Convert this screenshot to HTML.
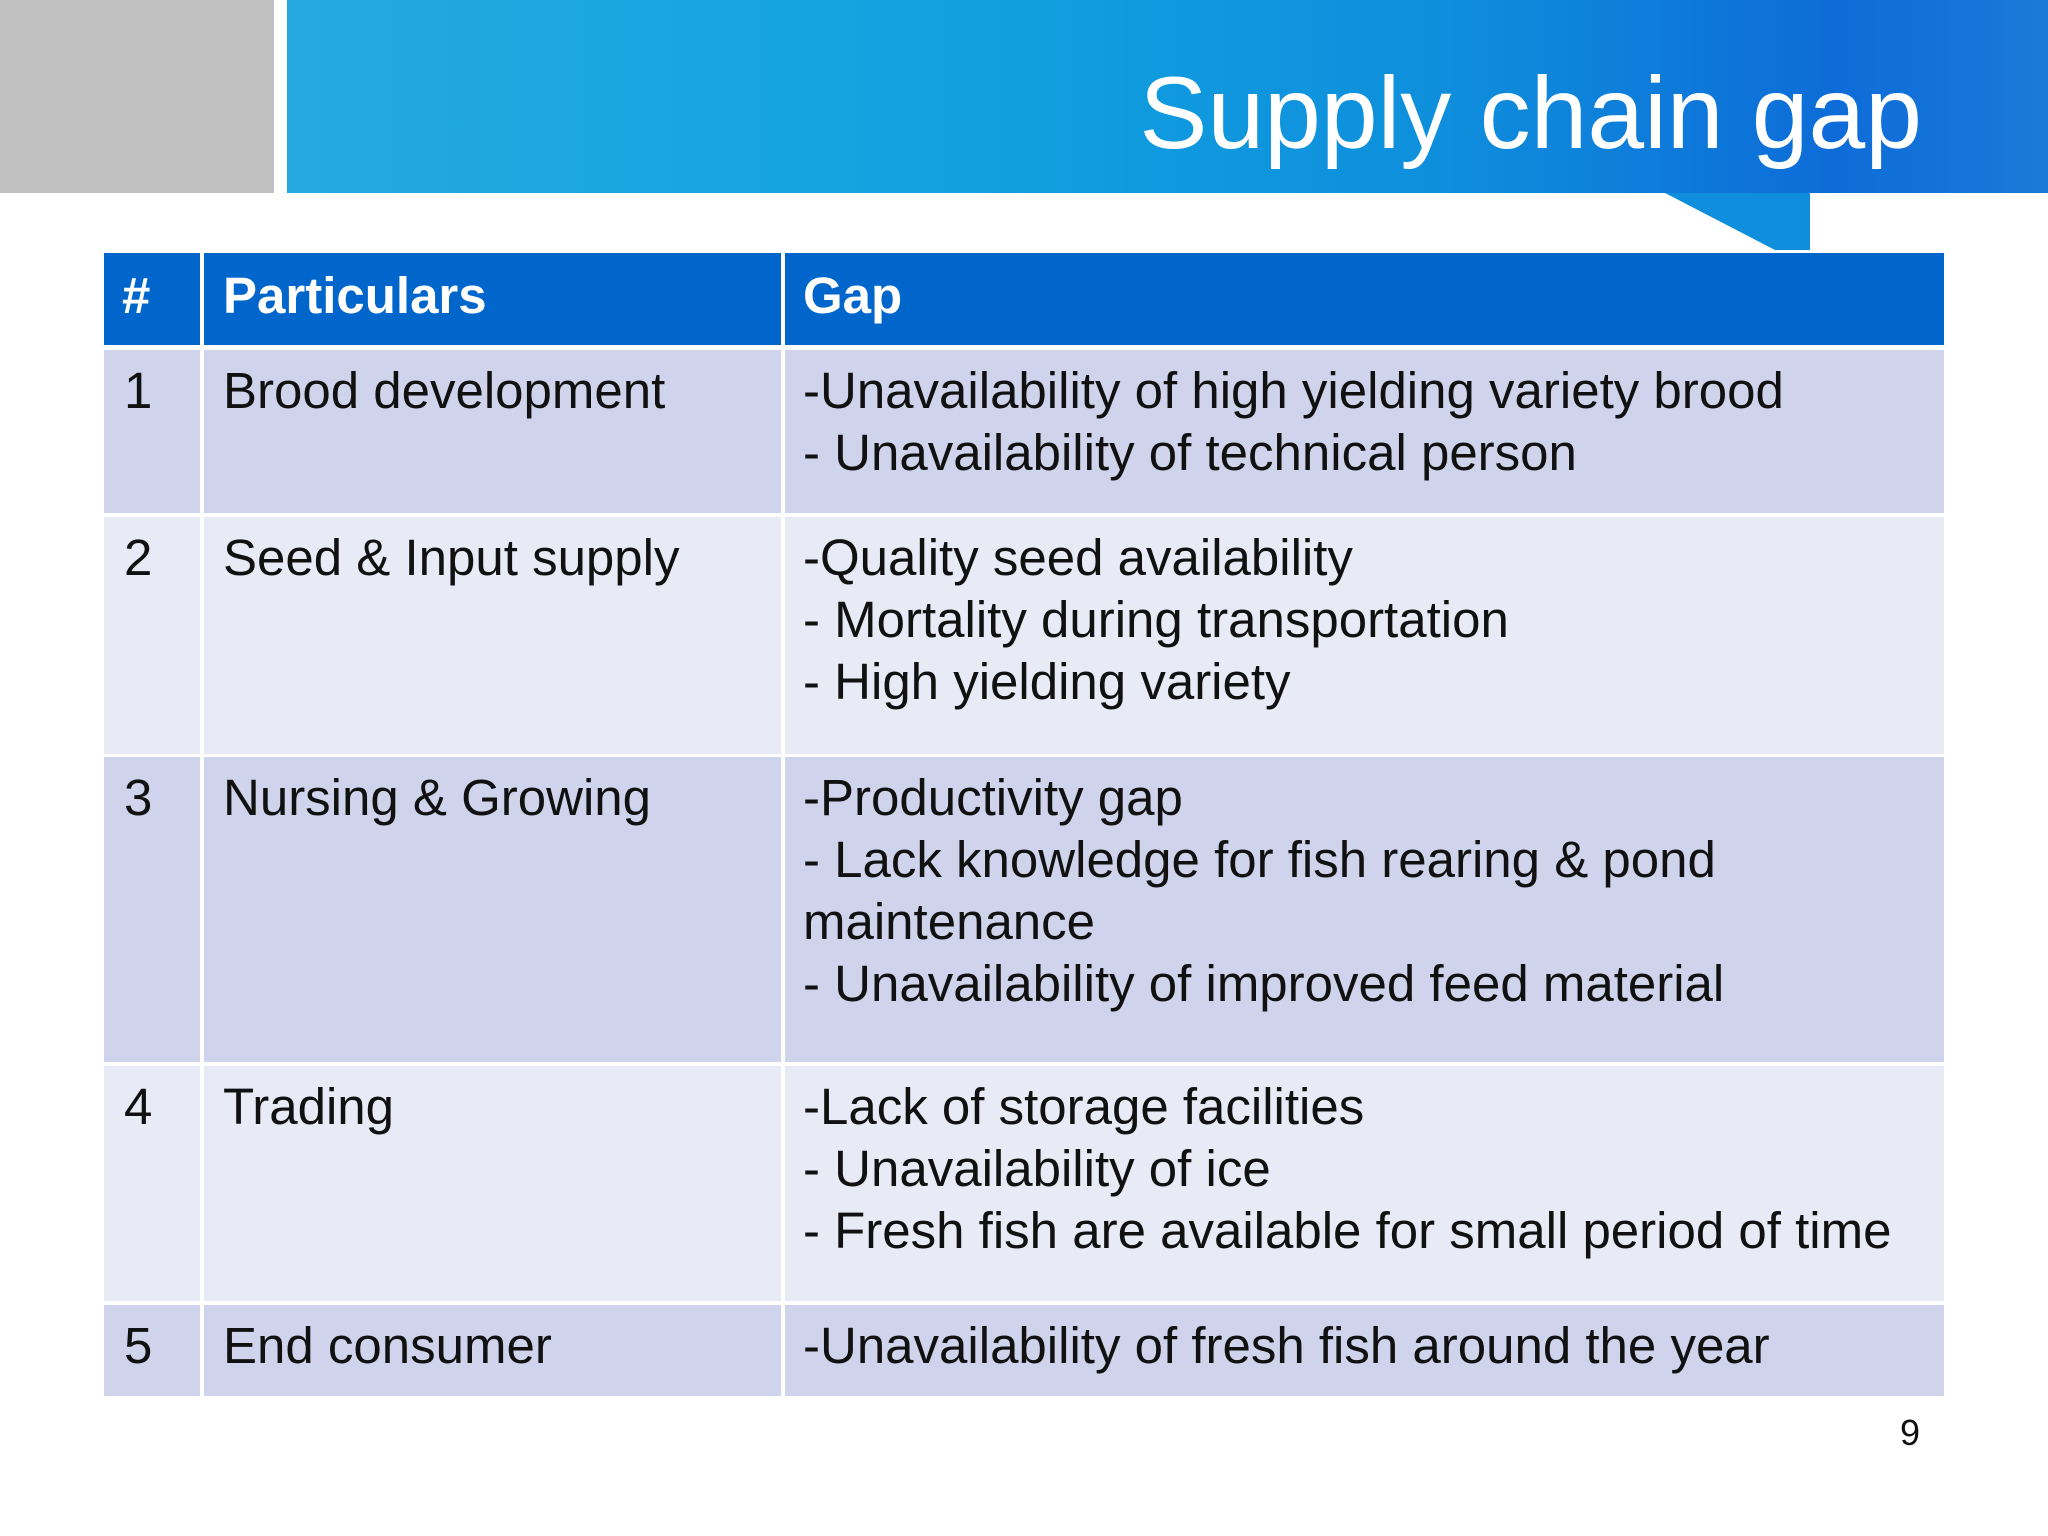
<!DOCTYPE html>
<html><head><meta charset="utf-8">
<style>
html,body{margin:0;padding:0;}
body{width:2048px;height:1536px;position:relative;overflow:hidden;background:#fff;font-family:"Liberation Sans",Arial,sans-serif;}
.abs{position:absolute;}
.cell{position:absolute;box-sizing:border-box;font-size:51px;line-height:62px;color:#111;padding-top:10px;white-space:nowrap;}
.hd{position:absolute;box-sizing:border-box;background:#0066cc;color:#fff;font-weight:bold;font-size:51px;line-height:86px;}
</style></head>
<body>
<div class="abs" style="left:0;top:0;width:274px;height:193px;background:#c0c0c0;"></div>
<div class="abs" style="left:287px;top:0;width:1761px;height:193px;background:linear-gradient(90deg,#26a9e0 0%,#12a3e0 35%,#0e8fdc 65%,#0d6cd8 88%,#1a7ad8 100%);"></div>
<svg class="abs" style="left:1665px;top:190px" width="160" height="64"><polygon points="0,3 145,3 145,60 110,60" fill="#0e8edc"/></svg>
<div class="abs" style="right:126px;top:55px;font-size:102px;line-height:116px;color:#fff;">Supply chain gap</div>

<div class="hd" style="left:104px;top:253px;width:96px;height:92px;padding-left:18px;">#</div>
<div class="hd" style="left:204px;top:253px;width:577px;height:92px;padding-left:19px;">Particulars</div>
<div class="hd" style="left:785px;top:253px;width:1159px;height:92px;padding-left:18px;">Gap</div>

<div id="rows"></div>
<div class="abs" style="left:1900px;top:1412px;font-size:36px;color:#111;">9</div>

<script>
const nums=["1","2","3","4","5"];
const parts=["Brood development","Seed &amp; Input supply","Nursing &amp; Growing","Trading","End consumer"];
const gaps=[
"-Unavailability of high yielding variety brood<br>- Unavailability of technical person",
"-Quality seed availability<br>- Mortality during transportation<br>- High yielding variety",
"-Productivity gap<br>- Lack knowledge for fish rearing &amp; pond<br>maintenance<br>- Unavailability of improved feed material",
"-Lack of storage facilities<br>- Unavailability of ice<br>- Fresh fish are available for small period of time",
"-Unavailability of fresh fish around the year"];
const tops=[350,517,757,1066,1305];
const bots=[513,754,1062,1301,1396];
const root=document.getElementById('rows');
for(let i=0;i<nums.length;i++){
  const bg=i%2===0?'#cfd4ec':'#e8eaf5';
  const h=bots[i]-tops[i];
  const cols=[[104,96,20,nums[i],'row-number'],[204,577,19,parts[i],'row-particular'],[785,1159,18,gaps[i],'row-gap']];
  for(const c of cols){
    const d=document.createElement('div');
    d.className='cell';
    
    
    d.style.cssText=`left:${c[0]}px;top:${tops[i]}px;width:${c[1]}px;height:${h}px;padding-left:${c[2]}px;background:${bg};`;
    d.innerHTML=c[3];
    root.appendChild(d);
  }
}
</script>
</body></html>
